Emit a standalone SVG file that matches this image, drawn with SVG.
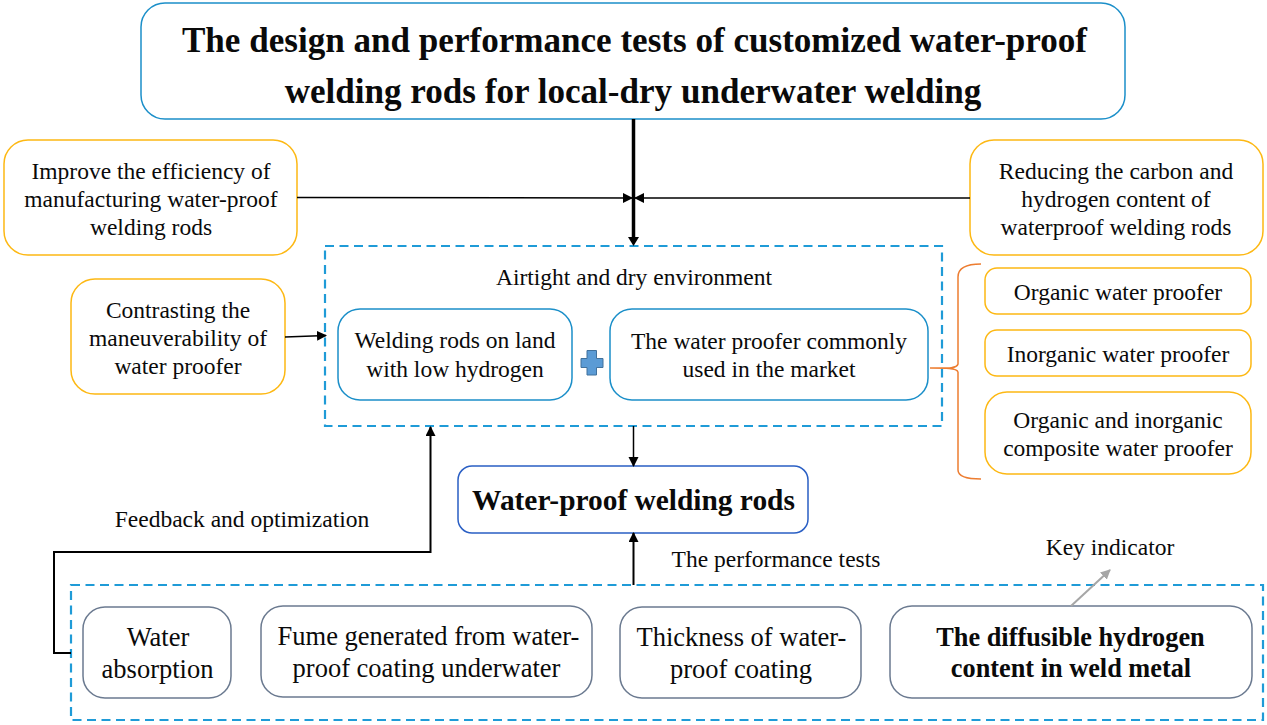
<svg xmlns="http://www.w3.org/2000/svg" width="1267" height="725" viewBox="0 0 1267 725">
<style>
text{font-family:"Liberation Serif","Times New Roman",serif;fill:#0a0a0a;text-anchor:middle;font-size:23.5px}
.b{font-weight:bold}
.t{font-size:35.1px}
.m{font-size:26.5px}
.y{fill:#fff;stroke:#fdb813;stroke-width:1.5}
.c{fill:#fff;stroke:#1b8fc9;stroke-width:1.5}
.g{fill:#fff;stroke:#6b7a90;stroke-width:1.5}
.d{fill:none;stroke:#1f9bd7;stroke-width:2.2;stroke-dasharray:9 5.5}
.k{fill:none;stroke:#000}
</style>
<defs>
<marker id="a" markerUnits="userSpaceOnUse" markerWidth="12" markerHeight="12" refX="9" refY="5" orient="auto"><path d="M0 0L10 5L0 10z" fill="#000"/></marker>
<marker id="ag" markerUnits="userSpaceOnUse" markerWidth="12" markerHeight="12" refX="9" refY="5" orient="auto"><path d="M0 0L10 5L0 10z" fill="#a6a6a6"/></marker>
</defs>
<rect width="1267" height="725" fill="#fff"/>
<g id="title"><rect class="c" x="141" y="3" width="984" height="116" rx="24"/>
<text class="b t" x="634.500" y="51.500">The design and performance tests of customized water-proof</text>
<text class="b t" x="633" y="103">welding rods for local-dry underwater welding</text></g>
<g id="improve"><rect class="y" x="4" y="140" width="293" height="115" rx="24"/>
<text x="151" y="179">Improve the efficiency of</text><text x="151" y="207">manufacturing water-proof</text><text x="151" y="235">welding rods</text></g>
<g id="reducing"><rect class="y" x="970" y="140" width="293" height="115" rx="24"/>
<text x="1116" y="179">Reducing the carbon and</text><text x="1116" y="207">hydrogen content of</text><text x="1116" y="235">waterproof welding rods</text></g>
<g id="contrast"><rect class="y" x="71" y="279" width="214" height="115" rx="24"/>
<text x="178" y="318">Contrasting the</text><text x="178" y="346">maneuverability of</text><text x="178" y="374">water proofer</text></g>
<g id="environment"><rect class="d" x="325" y="246" width="617" height="180"/><text x="634" y="285">Airtight and dry environment</text></g>
<g id="rods-land"><rect class="c" x="338" y="309" width="234" height="91" rx="22"/>
<text x="455" y="348">Welding rods on land</text><text x="455" y="377">with low hydrogen</text></g>
<g id="plus"><path d="M587 350.500H596.500V358.500H603V367.500H596.500V375H587V367.500H581V358.500H587Z" fill="#5b9bd5" stroke="#41719c" stroke-width="1"/></g>
<g id="proofer"><rect class="c" x="610" y="309" width="318" height="91" rx="22"/>
<text x="769" y="349">The water proofer commonly</text><text x="769" y="377">used in the market</text></g>
<g id="organic"><rect class="y" x="985" y="268" width="266" height="46" rx="12"/><text x="1118" y="300">Organic water proofer</text></g>
<g id="inorganic"><rect class="y" x="985" y="330" width="266" height="46" rx="12"/><text x="1118" y="362">Inorganic water proofer</text></g>
<g id="composite"><rect class="y" x="985" y="392" width="266" height="82" rx="22"/>
<text x="1118" y="428">Organic and inorganic</text><text x="1118" y="456">composite water proofer</text></g>
<g id="rods"><rect x="458" y="466" width="350" height="67" rx="14" fill="#fff" stroke="#2a5fc4" stroke-width="1.5"/>
<text class="b" x="633.500" y="510" style="font-size:29.400px">Water-proof welding rods</text></g>
<g id="tests"><rect class="d" x="71" y="585" width="1192" height="135"/></g>
<g id="water"><rect class="g" x="83" y="607" width="148" height="91" rx="22"/><text class="m" x="158" y="646">Water</text><text class="m" x="157.500" y="678">absorption</text></g>
<g id="fume"><rect class="g" x="261" y="606" width="331" height="91" rx="22"/><text class="m" x="428.500" y="645">Fume generated from water-</text><text class="m" x="426.500" y="677">proof coating underwater</text></g>
<g id="thickness"><rect class="g" x="620" y="607" width="241" height="91" rx="22"/><text class="m" x="741.500" y="646">Thickness of water-</text><text class="m" x="741" y="678">proof coating</text></g>
<g id="hydrogen"><rect class="g" x="890" y="606" width="362" height="92" rx="22"/><text class="b" x="1070.500" y="646" style="font-size:26.300px">The diffusible hydrogen</text><text class="b" x="1071" y="677" style="font-size:26.300px">content in weld metal</text></g>
<g id="connectors">
<path class="k" stroke-width="3.500" d="M633.500 119V238"/><path d="M628 237H639L633.500 246Z" fill="#000"/>
<path class="k" stroke-width="1.500" d="M297 197.500L632 198" marker-end="url(#a)"/>
<path class="k" stroke-width="1.500" d="M970 198H635" marker-end="url(#a)"/>
<path class="k" stroke-width="1.500" d="M285 337L326 335.500" marker-end="url(#a)"/>
<path class="k" stroke-width="1.500" d="M633.500 426V466" marker-end="url(#a)"/>
<path class="k" stroke-width="2" d="M633.500 585V533" marker-end="url(#a)"/>
<path class="k" stroke-width="2" d="M71 653H54V552H430.500V427" marker-end="url(#a)"/>
<path fill="none" stroke="#a6a6a6" stroke-width="2" d="M1071 606L1110 570" marker-end="url(#ag)"/>
<path fill="none" stroke="#ed7d31" stroke-width="1.500" d="M930 368C945 368 957 369 958 364V277C958 268 966 264 981 264M958 372C957 368 945 368 930 368M958 372V470C958 476 966 479 981 479"/>
</g>
<g id="labels">
<text x="242" y="527">Feedback and optimization</text>
<text x="776" y="567">The performance tests</text>
<text x="1110" y="555">Key indicator</text>
</g>
</svg>
